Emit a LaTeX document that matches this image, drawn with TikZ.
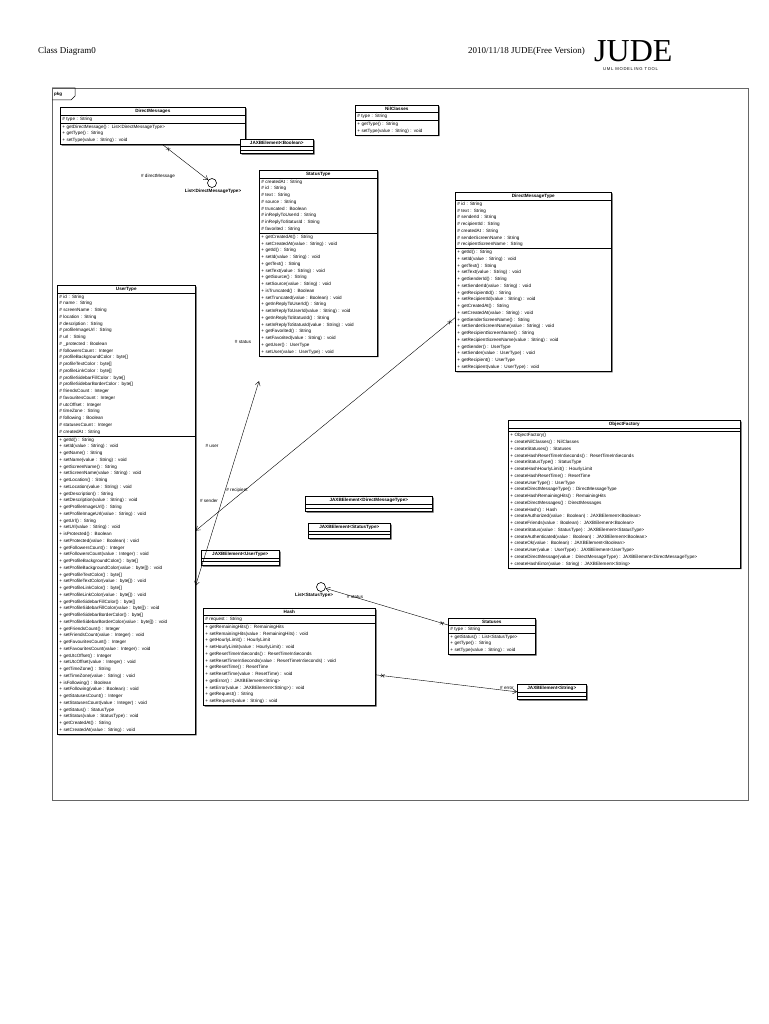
\documentclass[tikz,border=0pt]{standalone}
\usepackage{fontspec}
\setmainfont{Liberation Serif}
\newfontfamily\umlfont{Liberation Sans}
\usetikzlibrary{shapes.multipart,shapes.misc,shadows,arrows.meta,calc}
\newcommand{\ttl}[1]{\centering\textbf{#1}\par}
\tikzset{
  cls/.style={rectangle split, rectangle split parts=3, draw, line width=0.6pt, fill=white,
    drop shadow={shadow xshift=1.2pt, shadow yshift=-1.2pt, opacity=1, fill=black!75},
    font=\umlfont\fontsize{4.6}{6.75}\selectfont, inner xsep=2pt, inner ysep=1.5pt,
    align=left, rectangle split empty part height=2.5pt,
    anchor=north west},
  assoc/.style={draw, line width=0.4pt},
  barb/.tip={Straight Barb[length=4pt,width=5pt]},
  xmark/.style={cross out, draw, line width=0.4pt, minimum size=3pt, inner sep=0pt, sloped},
  lbl/.style={font=\umlfont\fontsize{4.6}{6}\selectfont, inner sep=0.5pt},
  lolly/.style={circle, draw, line width=0.6pt, minimum size=9pt, inner sep=0pt, fill=white}
}
\begin{document}
\begin{tikzpicture}[x=1pt,y=-1pt]
\useasboundingbox (0,0) rectangle (768,1024);
% header
\node[anchor=base west, font=\fontsize{9}{10}\selectfont, inner sep=0] (hdl) at (38,54) {Class Diagram0};
\node[anchor=base east, font=\fontsize{9}{10}\selectfont, inner sep=0] (hdr) at (585,54) {2010/11/18 JUDE(Free Version)};
\node[anchor=base west, font=\fontsize{32}{32}\selectfont, inner sep=0] (logo) at (594,62) {JUDE};
\node[anchor=base west, font=\umlfont\fontsize{4.2}{5}\selectfont, inner sep=0] (logo2) at (603,71) {U\,M\,L\ \,M\,O\,D\,E\,L\,I\,N\,G\ \,T\,O\,O\,L};
% frame
\draw[line width=0.8pt, black!60] (52,88) rectangle (748,800);
\draw[line width=0.5pt] (52,88) -- (75,88) -- (75,96) -- (71,100) -- (52,100);
\node[anchor=west, font=\umlfont\bfseries\fontsize{4.5}{5}\selectfont, inner sep=0] (pkg) at (54,94) {pkg};

% classes
\node[cls, text width=181pt] (dms) at (60,107) {\ttl{DirectMessages}\nodepart{two}\# type : String\nodepart{three}+ getDirectMessage() : List<DirectMessageType>\\+ getType() : String\\+ setType(value : String) : void};
\node[cls, text width=79pt] (nil) at (355,105) {\ttl{NilClasses}\nodepart{two}\# type : String\nodepart{three}+ getType() : String\\+ setType(value : String) : void};
\node[cls, text width=69pt] (jbb) at (240,139) {\ttl{JAXBElement<Boolean>}\nodepart{two}\nodepart{three}};
\node[cls, text width=114pt] (stt) at (259,170) {\ttl{StatusType}\nodepart{two}\# createdAt : String\\\# id : String\\\# text : String\\\# source : String\\\# truncated : Boolean\\\# inReplyToUserId : String\\\# inReplyToStatusId : String\\\# favorited : String\nodepart{three}+ getCreatedAt() : String\\+ setCreatedAt(value : String) : void\\+ getId() : String\\+ setId(value : String) : void\\+ getText() : String\\+ setText(value : String) : void\\+ getSource() : String\\+ setSource(value : String) : void\\+ isTruncated() : Boolean\\+ setTruncated(value : Boolean) : void\\+ getInReplyToUserId() : String\\+ setInReplyToUserId(value : String) : void\\+ getInReplyToStatusId() : String\\+ setInReplyToStatusId(value : String) : void\\+ getFavorited() : String\\+ setFavorited(value : String) : void\\+ getUser() : UserType\\+ setUser(value : UserType) : void};
\node[cls, text width=152pt] (dmt) at (455,192) {\ttl{DirectMessageType}\nodepart{two}\# id : String\\\# text : String\\\# senderId : String\\\# recipientId : String\\\# createdAt : String\\\# senderScreenName : String\\\# recipientScreenName : String\nodepart{three}+ getId() : String\\+ setId(value : String) : void\\+ getText() : String\\+ setText(value : String) : void\\+ getSenderId() : String\\+ setSenderId(value : String) : void\\+ getRecipientId() : String\\+ setRecipientId(value : String) : void\\+ getCreatedAt() : String\\+ setCreatedAt(value : String) : void\\+ getSenderScreenName() : String\\+ setSenderScreenName(value : String) : void\\+ getRecipientScreenName() : String\\+ setRecipientScreenName(value : String) : void\\+ getSender() : UserType\\+ setSender(value : UserType) : void\\+ getRecipient() : UserType\\+ setRecipient(value : UserType) : void};
\node[cls, text width=134pt] (ust) at (57,285) {\ttl{UserType}\nodepart{two}\# id : String\\\# name : String\\\# screenName : String\\\# location : String\\\# description : String\\\# profileImageUrl : String\\\# url : String\\\# \_protected : Boolean\\\# followersCount : Integer\\\# profileBackgroundColor : byte[]\\\# profileTextColor : byte[]\\\# profileLinkColor : byte[]\\\# profileSidebarFillColor : byte[]\\\# profileSidebarBorderColor : byte[]\\\# friendsCount : Integer\\\# favouritesCount : Integer\\\# utcOffset : Integer\\\# timeZone : String\\\# following : Boolean\\\# statusesCount : Integer\\\# createdAt : String\nodepart{three}+ getId() : String\\+ setId(value : String) : void\\+ getName() : String\\+ setName(value : String) : void\\+ getScreenName() : String\\+ setScreenName(value : String) : void\\+ getLocation() : String\\+ setLocation(value : String) : void\\+ getDescription() : String\\+ setDescription(value : String) : void\\+ getProfileImageUrl() : String\\+ setProfileImageUrl(value : String) : void\\+ getUrl() : String\\+ setUrl(value : String) : void\\+ isProtected() : Boolean\\+ setProtected(value : Boolean) : void\\+ getFollowersCount() : Integer\\+ setFollowersCount(value : Integer) : void\\+ getProfileBackgroundColor() : byte[]\\+ setProfileBackgroundColor(value : byte[]) : void\\+ getProfileTextColor() : byte[]\\+ setProfileTextColor(value : byte[]) : void\\+ getProfileLinkColor() : byte[]\\+ setProfileLinkColor(value : byte[]) : void\\+ getProfileSidebarFillColor() : byte[]\\+ setProfileSidebarFillColor(value : byte[]) : void\\+ getProfileSidebarBorderColor() : byte[]\\+ setProfileSidebarBorderColor(value : byte[]) : void\\+ getFriendsCount() : Integer\\+ setFriendsCount(value : Integer) : void\\+ getFavouritesCount() : Integer\\+ setFavouritesCount(value : Integer) : void\\+ getUtcOffset() : Integer\\+ setUtcOffset(value : Integer) : void\\+ getTimeZone() : String\\+ setTimeZone(value : String) : void\\+ isFollowing() : Boolean\\+ setFollowing(value : Boolean) : void\\+ getStatusesCount() : Integer\\+ setStatusesCount(value : Integer) : void\\+ getStatus() : StatusType\\+ setStatus(value : StatusType) : void\\+ getCreatedAt() : String\\+ setCreatedAt(value : String) : void};
\node[cls, text width=228pt] (obf) at (508,420) {\ttl{ObjectFactory}\nodepart{two}\nodepart{three}+ ObjectFactory()\\+ createNilClasses() : NilClasses\\+ createStatuses() : Statuses\\+ createHashResetTimeInSeconds() : ResetTimeInSeconds\\+ createStatusType() : StatusType\\+ createHashHourlyLimit() : HourlyLimit\\+ createHashResetTime() : ResetTime\\+ createUserType() : UserType\\+ createDirectMessageType() : DirectMessageType\\+ createHashRemainingHits() : RemainingHits\\+ createDirectMessages() : DirectMessages\\+ createHash() : Hash\\+ createAuthorized(value : Boolean) : JAXBElement<Boolean>\\+ createFriends(value : Boolean) : JAXBElement<Boolean>\\+ createStatus(value : StatusType) : JAXBElement<StatusType>\\+ createAuthenticated(value : Boolean) : JAXBElement<Boolean>\\+ createOk(value : Boolean) : JAXBElement<Boolean>\\+ createUser(value : UserType) : JAXBElement<UserType>\\+ createDirectMessage(value : DirectMessageType) : JAXBElement<DirectMessageType>\\+ createHashError(value : String) : JAXBElement<String>};
\node[cls, text width=123pt] (jbd) at (305,496) {\ttl{JAXBElement<DirectMessageType>}\nodepart{two}\nodepart{three}};
\node[cls, text width=78pt] (jbs) at (308,523) {\ttl{JAXBElement<StatusType>}\nodepart{two}\nodepart{three}};
\node[cls, text width=74pt] (jbu) at (201,550) {\ttl{JAXBElement<UserType>}\nodepart{two}\nodepart{three}};
\node[cls, text width=168pt] (hsh) at (203,608) {\ttl{Hash}\nodepart{two}\# request : String\nodepart{three}+ getRemainingHits() : RemainingHits\\+ setRemainingHits(value : RemainingHits) : void\\+ getHourlyLimit() : HourlyLimit\\+ setHourlyLimit(value : HourlyLimit) : void\\+ getResetTimeInSeconds() : ResetTimeInSeconds\\+ setResetTimeInSeconds(value : ResetTimeInSeconds) : void\\+ getResetTime() : ResetTime\\+ setResetTime(value : ResetTime) : void\\+ getError() : JAXBElement<String>\\+ setError(value : JAXBElement<String>) : void\\+ getRequest() : String\\+ setRequest(value : String) : void};
\node[cls, text width=83pt] (sts) at (448,618) {\ttl{Statuses}\nodepart{two}\# type : String\nodepart{three}+ getStatus() : List<StatusType>\\+ getType() : String\\+ setType(value : String) : void};
\node[cls, text width=65pt] (jst) at (517,684) {\ttl{JAXBElement<String>}\nodepart{two}\nodepart{three}};

% interfaces (lollipops)
\node[lolly] (lp1) at (212,183) {};
\node[lbl, font=\umlfont\bfseries\fontsize{4.6}{6}\selectfont, anchor=north] (lp1t) at (213,188) {List<DirectMessageType>};
\node[lolly] (lp2) at (321,587) {};
\node[lbl, font=\umlfont\bfseries\fontsize{4.6}{6}\selectfont, anchor=north] (lp2t) at (314,592) {List<StatusType>};

% connectors
\draw[assoc, -barb] ([xshift=10pt]dms.south) -- node[xmark, pos=0.12]{} (lp1);
\node[lbl] (l1) at (158,176) {\# directMessage};

\draw[assoc, barb-barb] ([yshift=-25pt]stt.south west) -- ([yshift=-76pt]ust.east);
\node[lbl] (l2) at (243,342) {\# status};
\node[lbl] (l3) at (212,446) {\# user};

\draw[assoc, -barb] ([yshift=-36pt]dmt.west) -- node[xmark, pos=0.02]{} ([yshift=-21pt]ust.east);
\node[lbl] (l4) at (237,490) {\# recipient};
\node[lbl] (l5) at (209,501) {\# sender};

\draw[assoc, -barb] ([yshift=-7pt]sts.north west) -- node[xmark, pos=0.05]{} (lp2);
\node[lbl] (l6) at (355,597) {\# status};

\draw[assoc, -barb] ([yshift=-18pt]hsh.east) -- node[xmark, pos=0.05]{} (jst.west);
\node[lbl] (l7) at (507,688) {\# error};
\end{tikzpicture}
\end{document}
